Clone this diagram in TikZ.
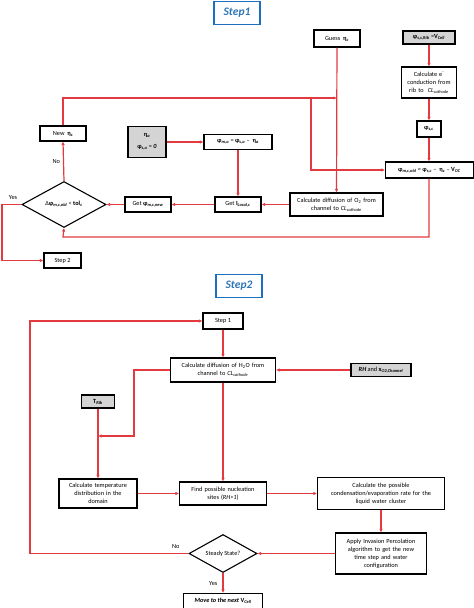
\documentclass[tikz,border=0pt]{standalone}
\usepackage{fontspec}
\setmainfont{Carlito}
\usetikzlibrary{shapes.geometric,arrows.meta}
\definecolor{lred}{HTML}{E23A3F}
\definecolor{gfill}{HTML}{D4D4D4}
\definecolor{tblue}{HTML}{2E75B6}
\definecolor{bblue}{HTML}{1F6FC1}
\newcommand{\vsub}[2]{\textbf{#1}\textsubscript{\textbf{\textit{#2}}}}
\newcommand{\clcath}{\textit{CL}\textsubscript{\textit{cathode}}}
\tikzset{
  box/.style={draw=black, line width=1.1pt, fill=white, align=center, inner sep=1pt,
    font=\fontsize{6.3}{8}\selectfont},
  gbox/.style={box, fill=gfill},
  dbox/.style={draw=black, line width=1.1pt, fill=white, shape=diamond, inner sep=0pt,
    align=center, font=\fontsize{6.3}{8}\selectfont},
  title/.style={draw=bblue, line width=1.5pt, fill=white, text=tblue,
    font=\fontsize{11.5}{13}\selectfont\bfseries\itshape, minimum width=46, minimum height=23},
  arr/.style={draw=lred, line width=1.2pt, -{Latex[length=3.5pt,width=3.5pt]}},
  lbl/.style={font=\fontsize{6.3}{8}\selectfont, inner sep=0pt}
}
\begin{document}
\begin{tikzpicture}[x=1pt,y=-1pt]
\useasboundingbox (0,0) rectangle (474,608);
% ---------- Step 1 ----------
\node[title] (t1) at (237,13) {Step1};
\node[box, minimum width=46, minimum height=17] (guess) at (337,38.5) {Guess \ \vsub{η}{c}};
\node[gbox, minimum width=52, minimum height=13] (rib) at (429,37.5) {\vsub{φ}{s,c,Rib} =\vsub{V}{Cell}};
\node[box, minimum width=55, minimum height=31, text width=52] (econd) at (429,82.5) {Calculate e\textsuperscript{-}\\conduction from\\rib to \ \clcath};
\node[box, minimum width=24, minimum height=16] (phisc) at (429,129) {\vsub{φ}{s,c}};
\node[box, minimum width=88, minimum height=16] (phimc) at (429.5,170) {\vsub{φ}{m,c,old} = \vsub{φ}{s,c} – \ \vsub{η}{c} – \vsub{V}{OC}};
\node[box, minimum width=93, minimum height=23, text width=90] (o2) at (336.5,204.5) {Calculate diffusion of O\textsubscript{2} from\\channel to \clcath};
\node[box, minimum width=46, minimum height=15] (iloc) at (238,204.5) {Get \vsub{I}{Local,c}};
\node[box, minimum width=46, minimum height=15] (phinew) at (148,204.5) {Get \vsub{φ}{m,c,new}};
\node[dbox, aspect=1.8, minimum width=84, minimum height=46] (dia) at (64,204.5) {Δ\vsub{φ}{m,c,old} \textless\ \vsub{tol}{c}};
\node[box, minimum width=46, minimum height=15] (neweta) at (63,133.5) {New \ \vsub{η}{c}};
\node[gbox, minimum width=38, minimum height=31] (etaa) at (147,142) {\vsub{η}{a}\\[4pt]\vsub{φ}{s,a} = \textbf{\textit{0}}};
\node[box, minimum width=68, minimum height=15] (phima) at (238,142) {\vsub{φ}{m,a} = \vsub{φ}{s,a} – \ \vsub{η}{a}};
\node[box, minimum width=37, minimum height=15] (step2b) at (62.5,260.5) {Step 2};
\coordinate (j1) at (337,98);
\coordinate (j2) at (311,98);
\coordinate (j3) at (63,237);
\coordinate (j4) at (2,204.5);
\draw[arr] (neweta.north) |- (j1);
\draw[arr] (j2) |- (phimc.west);
\draw[arr] (guess) -- (o2);
\draw[arr] (rib) -- (econd);
\draw[arr] (econd) -- (phisc);
\draw[arr] (phisc) -- (phisc |- phimc.north);
\draw[arr] (phisc |- phimc.south) |- (j3) -- (dia.south);
\draw[arr] (etaa) -- (phima);
\draw[arr] (phima) -- (iloc);
\draw[arr] (o2) -- (iloc);
\draw[arr] (iloc) -- (phinew);
\draw[arr] (phinew) -- (dia);
\draw[arr] (dia.north) -- node[lbl, left=3pt] {No} (neweta.south);
\draw[arr] (dia.west) -- (j4) |- (step2b.west);
\node[lbl] (yes1) at (13,197) {Yes};
% ---------- Step 2 ----------
\node[title] (t2) at (239,286) {Step2};
\node[box, minimum width=40, minimum height=16] (s1) at (223,321) {Step 1};
\node[box, minimum width=105, minimum height=24, text width=100] (h2o) at (223,370) {Calculate diffusion of H\textsubscript{2}O from\\channel to \clcath};
\node[gbox, minimum width=60, minimum height=13] (rh) at (381,370) {\textbf{\textit{RH}} and \vsub{x}{O2,Channel}};
\node[gbox, minimum width=33, minimum height=13] (trib) at (98,401.5) {\vsub{T}{Rib}};
\node[box, minimum width=78, minimum height=29, text width=74] (temp) at (98,493.5) {Calculate temperature\\distribution in the\\domain};
\node[box, minimum width=87, minimum height=23, text width=84] (nucl) at (223,493.5) {Find possible nucleation\\sites (\textit{RH}\textgreater\textit{1})};
\node[box, minimum width=127, minimum height=32, text width=124] (cond) at (381,493.5) {Calculate the possible\\condensation/evaporation rate for the\\liquid water cluster};
\node[box, minimum width=91, minimum height=41, text width=88] (apply) at (381,553.5) {Apply Invasion Percolation\\algorithm to get the new\\time step and water\\configuration};
\node[dbox, aspect=1.8, minimum width=68, minimum height=38] (ss) at (223,553.5) {Steady State?};
\node[box, minimum width=79, minimum height=15] (move) at (223,601) {\textbf{\textit{Move to the next}} \vsub{V}{Cell}};
\coordinate (j5) at (134,436);
\coordinate (j6) at (98,436);
\coordinate (j7) at (30,553.5);
\draw[arr] (s1) -- (h2o);
\draw[arr] (rh) -- (h2o);
\draw[arr] (h2o.west) -| (j5) -- (j6);
\draw[arr] (trib) -- (temp);
\draw[arr] (h2o) -- (nucl);
\draw[arr] (temp) -- (nucl);
\draw[arr] (nucl) -- (cond);
\draw[arr] (cond) -- (apply);
\draw[arr] (apply) -- (ss);
\draw[arr] (ss) -- node[lbl, left=5pt] {Yes} (move);
\draw[arr] (ss.west) -- node[lbl, above=4pt, pos=0.08] {No} (j7) |- (s1.west);
\end{tikzpicture}
\end{document}
